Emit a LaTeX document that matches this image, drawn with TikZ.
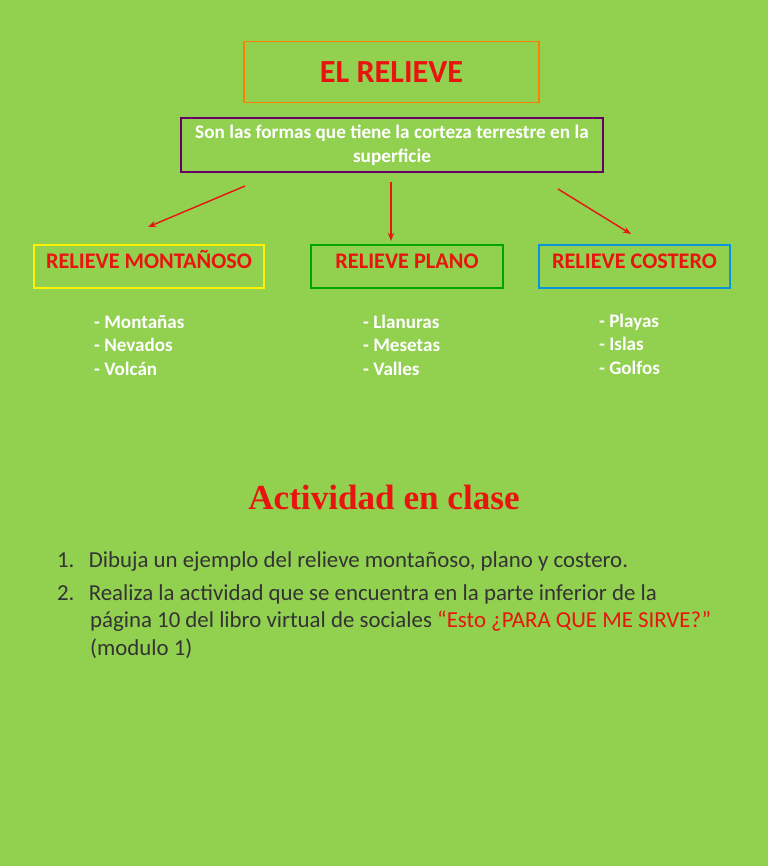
\documentclass[tikz,border=0pt]{standalone}
\usepackage{fontspec}
\setmainfont{Carlito}
\newfontfamily\titlefont{Liberation Serif}
\usetikzlibrary{arrows.meta, positioning}
\definecolor{fondo}{HTML}{92D050}
\definecolor{rojo}{HTML}{E8140F}
\tikzset{%
	tipo/.style={
		draw,
		line width=1.5pt,
		minimum height=1.29cm,
		text height=10pt,
		text depth=6pt,
		font=\fontsize{19}{21}\selectfont\bfseries,
		text=rojo
	},
	lista/.style={
		align=left,
		anchor=north west,
		text=white,
		font=\fontsize{16.3}{20}\selectfont\bfseries
	},
	punto/.style={
		anchor=north west,
		align=left,
		text=black!80,
		font=\fontsize{19.5}{23.5}\selectfont
	},
	flecha/.style={
		draw=rojo,
		line width=1.2pt,
		-{Stealth[length=7pt]}
	},
}
\begin{document}
\begin{tikzpicture}[x=0.03cm, y=-0.03cm]
	% fondo
	\fill[fondo] (0,0) rectangle (768,866);
	
	% titulo y definicion
	\node[draw=orange, line width=1.5pt, minimum width=8.85cm, minimum height=1.83cm,
		text=rojo, font=\fontsize{27.5}{30}\selectfont\bfseries] (titulo) at (391.5,72) {EL RELIEVE};
	\node[draw=violet!80!black, line width=1.5pt, minimum width=12.66cm, minimum height=1.62cm,
		align=center, text=white, font=\fontsize{16.4}{20.5}\selectfont\bfseries] (def) at (392,145)
		{Son las formas que tiene la corteza terrestre en la\\superficie};
	
	% tipos de relieve
	\node[tipo, draw=yellow, minimum width=6.9cm] (monta) at (149,266.5) {RELIEVE MONTAÑOSO};
	\node[tipo, draw=green!65!black, minimum width=5.76cm] (plano) at (407,266.5) {RELIEVE PLANO};
	\node[tipo, draw=cyan!80!blue, minimum width=5.73cm] (coste) at (634.5,266.5) {RELIEVE COSTERO};
	
	% flechas
	\coordinate (a1) at (245,186);
	\coordinate (a2) at (391,182);
	\coordinate (a3) at (558,189);
	\draw[flecha] (a1) -- (148,227);
	\draw[flecha] (a2) -- (391,241);
	\draw[flecha] (a3) -- (631,234);
	
	% ejemplos
	\node[lista] (l1) at (90,311) {- Montañas\\- Nevados\\- Volcán};
	\node[lista] (l2) at (359,311) {- Llanuras\\- Mesetas\\- Valles};
	\node[lista] (l3) at (595,310) {- Playas\\- Islas\\- Golfos};
	
	% actividad
	\node[text=rojo, font=\titlefont\fontsize{30}{32}\selectfont\bfseries] (act) at (384,497) {Actividad en clase};
	\node[punto] (i1) at (53,547)
		{1.\hspace{0.43cm}Dibuja un ejemplo del relieve montañoso, plano y costero.};
	\node[punto] (i2) at (53,580)
		{2.\hspace{0.43cm}Realiza la actividad que se encuentra en la parte inferior de la\\
		\hspace*{0.99cm}página 10 del libro virtual de sociales \textcolor{rojo}{“Esto ¿PARA QUE ME SIRVE?”}\\
		\hspace*{0.99cm}(modulo 1)};
\end{tikzpicture}
\end{document}
